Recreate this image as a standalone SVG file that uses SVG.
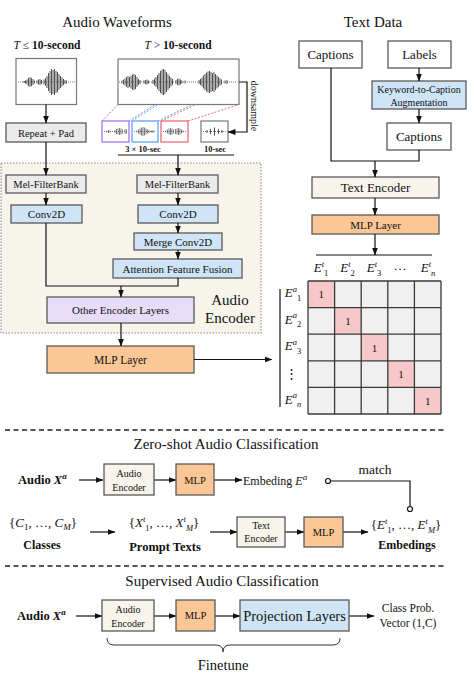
<svg xmlns="http://www.w3.org/2000/svg" width="474" height="684" viewBox="0 0 474 684">
<defs>
<marker id="ah" viewBox="0 0 8 6" refX="7.5" refY="3" markerWidth="8" markerHeight="6" markerUnits="userSpaceOnUse" orient="auto"><path d="M0,0 L8,3 L0,6 z" fill="#111"/></marker>
<style>
.t{font-family:"Liberation Serif","Times New Roman",serif;fill:#111}
.i{font-style:italic}
.b{font-weight:bold}
.bx{stroke:#5a5a5a;stroke-width:1.3}
.gray{fill:#ebebeb}.blue{fill:#cfe4f7}.lav{fill:#e8ddf8}.org{fill:#fbc796}.beige{fill:#f7f4eb}.white{fill:#fff}
.c{stroke:#111;stroke-width:1.2;fill:none}
.arr{marker-end:url(#ah)}
.wave{stroke:#4a4a4a;stroke-width:0.95;fill:none}
.mini{stroke:#6e6e6e;stroke-width:0.9;fill:none}
.dot{stroke:#555;stroke-width:0.8;stroke-dasharray:1 1;fill:none}
.sep{stroke:#222;stroke-width:1.3;stroke-dasharray:5 3.5;fill:none}
</style>
</defs>
<rect width="474" height="684" fill="#fff"/>

<!-- titles -->
<text class="t" x="117" y="27" font-size="15" text-anchor="middle">Audio Waveforms</text>
<text class="t" x="373" y="27" font-size="15" text-anchor="middle">Text Data</text>
<text class="t" x="47" y="49" font-size="11.5" text-anchor="middle"><tspan class="i">T</tspan> ≤ <tspan class="b">10-second</tspan></text>
<text class="t" x="178" y="49" font-size="11.5" text-anchor="middle"><tspan class="i">T</tspan> &gt; <tspan class="b">10-second</tspan></text>

<!-- audio encoder frame -->
<g id="audio-encoder-frame">
<rect x="1" y="163" width="260" height="170" fill="#f7f4ec" stroke="#8a8a8a" stroke-width="1.1" stroke-dasharray="1.5 1.5"/>
<text class="t" x="230" y="305" font-size="15" text-anchor="middle">Audio</text>
<text class="t" x="230" y="323" font-size="15" text-anchor="middle">Encoder</text>
</g>

<!-- waveforms -->
<g id="wave-short">
<rect x="16" y="58.5" width="60.5" height="46" fill="#fff" stroke="#777" stroke-width="1.2"/>
<path class="dot" d="M18 82H75"/>
<path class="wave" d="M24 81V83M25.5 80.5V83.5M27 79.5V84.5M28.5 78V86M30 77V87M31.5 78V86M33 79V85M34.5 80.5V83.5M37 80.5V83.5M38.5 79.5V84.5M40 79V85M41.5 80V84M44 79.5V84.5M45.5 78V86M47 76V88M48.5 73V91M50 71V93M51.5 69V95M53 70V94M54.5 69V95M56 71V93M57.5 72V92M59 74V90M60.5 76V88M62 77.5V86.5M63.5 79V85M65 80V84M66.5 80.5V83.5"/>
</g>
<g id="wave-long">
<rect x="118" y="59" width="121" height="45.5" fill="#fff" stroke="#777" stroke-width="1.2"/>
<path class="dot" d="M119 82H237"/>
<path class="wave" d="M122 80.5V83.5M123.5 79.5V84.5M125 78.5V85.5M126.5 77V87M128 76V88M129.5 77V87M131 75.5V88.5M132.5 74.5V89.5M134 74V90M135.5 75V89M137 77V87M138.5 79V85M140 80V84M144 80.5V83.5M145.5 80V84M147 79.5V84.5M148.5 80.5V83.5M153 80V84M154.5 78.5V85.5M156 77V87M157.5 75V89M159 73V91M160.5 71V93M162 69.5V94.5M163.5 69V95M165 70V94M166.5 72V92M168 74V90M169.5 76V88M171 77.5V86.5M172.5 79V85M176 80V84M177.5 79V85M179 78.5V85.5M180.5 79.5V84.5M182 80.5V83.5M185 80.5V83.5M199 80V84M200.5 79V85M202 77.5V86.5M203.5 75.5V88.5M205 74V90M206.5 72.5V91.5M208 71.5V92.5M209.5 71V93M211 72V92M212.5 73V91M214 72V92M215.5 74V90M217 75.5V88.5M218.5 77V87M220 78.5V85.5M221.5 79.5V84.5M225 80.5V83.5M227 80V84"/>
</g>
<text class="t" transform="translate(250.5,106) rotate(90)" font-size="10" text-anchor="middle">downsample</text>

<!-- segment boxes -->
<g id="segments">
<path d="M102 121L118 104.5M129 121L155 104.5" stroke="#a774e8" stroke-width="1" stroke-dasharray="2 1.5"/>
<path d="M132 121L158 104.5M158 121L192 104.5" stroke="#5ea6ee" stroke-width="1" stroke-dasharray="2 1.5"/>
<path d="M161 121L196 104.5M188 121L239 104.5" stroke="#ea6b78" stroke-width="1" stroke-dasharray="2 1.5"/>
<rect x="102" y="121" width="27" height="21" fill="#fff" stroke="#a774e8" stroke-width="1.3"/>
<rect x="132" y="121" width="26" height="21" fill="#fff" stroke="#5ea6ee" stroke-width="1.3"/>
<rect x="161" y="121" width="27" height="21" fill="#fff" stroke="#ea6b78" stroke-width="1.3"/>
<rect x="201" y="121" width="27" height="21" fill="#fff" stroke="#777" stroke-width="1.2"/>
<path class="dot" d="M104 131.5H127M134 131.5H156M163 131.5H186M203 131.5H226"/>
<path class="mini" d="M107 130.5V132.5M108.5 130V133M110 130.5V132.5M115 130V133M116.5 129V134M118 128.5V134.5M119.5 128V135M121 128.5V134.5M122.5 129.5V133.5M125 129V134M126.5 129.5V133.5M137 130.5V132.5M138.5 129.5V133.5M140 128.5V134.5M141.5 127.5V135.5M143 127V136M144.5 127.5V135.5M146 128.5V134.5M147.5 129.5V133.5M149 130V133M151.5 130.5V132.5M153 130V133M166 130.5V132.5M167.5 129.5V133.5M169 128.5V134.5M170.5 128V135M172 128.5V134.5M173.5 129.5V133.5M175.5 129V134M177 128.5V134.5M178.5 128V135M180 128.5V134.5M181.5 129.5V133.5M183 130.5V132.5"/>
<path class="wave" d="M207 130V133M210.5 129V134M214.5 127.5V135.5M218.5 129V134M222 130V133"/>
<text class="t b" x="143" y="152" font-size="8.5" text-anchor="middle">3 × 10-sec</text>
<text class="t b" x="215" y="152" font-size="8.5" text-anchor="middle">10-sec</text>
</g>

<!-- audio nodes -->
<g id="repeat-pad"><rect class="bx gray" x="6" y="123" width="80" height="19"/><text class="t" x="46" y="136.5" font-size="10.5" text-anchor="middle">Repeat + Pad</text></g>
<g id="mel-left"><rect class="bx gray" x="6" y="175" width="80" height="18"/><text class="t" x="46" y="187.8" font-size="10.5" text-anchor="middle">Mel-FilterBank</text></g>
<g id="mel-right"><rect class="bx gray" x="137" y="175" width="81" height="18"/><text class="t" x="177.5" y="187.8" font-size="10.5" text-anchor="middle">Mel-FilterBank</text></g>
<g id="conv-left"><rect class="bx blue" x="11" y="205" width="71" height="18"/><text class="t" x="46.5" y="218" font-size="11" text-anchor="middle">Conv2D</text></g>
<g id="conv-right"><rect class="bx blue" x="138" y="205" width="80" height="18"/><text class="t" x="178" y="218" font-size="11" text-anchor="middle">Conv2D</text></g>
<g id="merge-conv"><rect class="bx blue" x="134" y="233" width="88" height="17"/><text class="t" x="178" y="245.5" font-size="11" text-anchor="middle">Merge Conv2D</text></g>
<g id="aff"><rect class="bx blue" x="113" y="259" width="129" height="19"/><text class="t" x="177.5" y="272.5" font-size="11" text-anchor="middle">Attention Feature Fusion</text></g>
<g id="other-enc"><rect class="bx lav" x="47" y="297" width="147" height="26"/><text class="t" x="120.5" y="314" font-size="11" text-anchor="middle">Other Encoder Layers</text></g>
<g id="mlp-audio"><rect class="bx org" x="47" y="346" width="147" height="27" stroke="#888"/><text class="t" x="120.5" y="363.5" font-size="11.5" text-anchor="middle">MLP Layer</text></g>

<!-- text nodes -->
<g id="captions-1"><rect class="bx white" x="299" y="41" width="63" height="27" stroke="#444"/><text class="t" x="330.5" y="59" font-size="13" text-anchor="middle">Captions</text></g>
<g id="labels"><rect class="bx white" x="388" y="41" width="63" height="27" stroke="#444"/><text class="t" x="419.5" y="59" font-size="13" text-anchor="middle">Labels</text></g>
<g id="k2c"><rect class="bx blue" x="372" y="81" width="94" height="28" stroke="#444"/><text class="t" x="419" y="92.5" font-size="10" text-anchor="middle">Keyword-to-Caption</text><text class="t" x="419" y="105.5" font-size="10" text-anchor="middle">Augmentation</text></g>
<g id="captions-2"><rect class="bx white" x="387" y="123" width="64" height="27" stroke="#444"/><text class="t" x="419" y="141" font-size="13" text-anchor="middle">Captions</text></g>
<g id="text-enc"><rect class="bx beige" x="312" y="177" width="127" height="21" stroke="#888"/><text class="t" x="375.5" y="192" font-size="13" text-anchor="middle">Text Encoder</text></g>
<g id="mlp-text"><rect class="bx org" x="312" y="215" width="127" height="19" stroke="#888"/><text class="t" x="375.5" y="228.5" font-size="11" text-anchor="middle">MLP Layer</text></g>

<!-- similarity matrix -->
<g id="matrix">
<rect x="308" y="281" width="133" height="133" fill="#f0f0f0"/>
<rect x="308" y="281" width="26.6" height="26.6" fill="#f6c8c8"/>
<rect x="334.6" y="307.6" width="26.6" height="26.6" fill="#f6c8c8"/>
<rect x="361.2" y="334.2" width="26.6" height="26.6" fill="#f6c8c8"/>
<rect x="387.8" y="360.8" width="26.6" height="26.6" fill="#f6c8c8"/>
<rect x="414.4" y="387.4" width="26.6" height="26.6" fill="#f6c8c8"/>
<path d="M308 281H441M308 307.6H441M308 334.2H441M308 360.8H441M308 387.4H441M308 414H441M308 281V414M334.6 281V414M361.2 281V414M387.8 281V414M414.4 281V414M441 281V414" stroke="#3a3a3a" stroke-width="1.3" fill="none"/>
<g class="t" font-size="11" text-anchor="middle">
<text x="321.3" y="298.3">1</text><text x="347.9" y="324.9">1</text><text x="374.5" y="351.5">1</text><text x="401.1" y="378.1">1</text><text x="427.7" y="404.7">1</text>
</g>
<g class="t" font-size="13" text-anchor="middle">
<text x="321" y="272"><tspan class="i">E</tspan><tspan font-size="8.5" class="i" dy="-5.5">t</tspan><tspan font-size="8.5" dy="9">1</tspan></text>
<text x="347.5" y="272"><tspan class="i">E</tspan><tspan font-size="8.5" class="i" dy="-5.5">t</tspan><tspan font-size="8.5" dy="9">2</tspan></text>
<text x="374" y="272"><tspan class="i">E</tspan><tspan font-size="8.5" class="i" dy="-5.5">t</tspan><tspan font-size="8.5" dy="9">3</tspan></text>
<text x="400" y="270">…</text>
<text x="428" y="272"><tspan class="i">E</tspan><tspan font-size="8.5" class="i" dy="-5.5">t</tspan><tspan font-size="8.5" class="i" dy="9">n</tspan></text>
<text x="293" y="297"><tspan class="i">E</tspan><tspan font-size="8.5" class="i" dy="-5.5">a</tspan><tspan font-size="8.5" dy="9">1</tspan></text>
<text x="293" y="323.5"><tspan class="i">E</tspan><tspan font-size="8.5" class="i" dy="-5.5">a</tspan><tspan font-size="8.5" dy="9">2</tspan></text>
<text x="293" y="350"><tspan class="i">E</tspan><tspan font-size="8.5" class="i" dy="-5.5">a</tspan><tspan font-size="8.5" dy="9">3</tspan></text>
<text x="291" y="378">⋮</text>
<text x="293" y="403.5"><tspan class="i">E</tspan><tspan font-size="8.5" class="i" dy="-5.5">a</tspan><tspan font-size="8.5" class="i" dy="9">n</tspan></text>
</g>
</g>

<!-- connectors -->
<g id="connectors">
<path class="c arr" d="M46 104.5V123"/>
<path class="c arr" d="M46 142V175"/>
<path class="c arr" d="M239 82H247V132H228"/>
<path class="c" d="M118 155H234"/>
<path class="c arr" d="M178 155V175"/>
<path class="c arr" d="M46 193V205"/>
<path class="c arr" d="M178 193V205"/>
<path class="c arr" d="M178 223V233"/>
<path class="c arr" d="M178 250V259"/>
<path class="c" d="M46 223V286H178V278"/>
<path class="c arr" d="M121 286V297"/>
<path class="c arr" d="M121 323V346"/>
<path class="c arr" d="M194 359.5H272"/>
<path class="c arr" d="M419 68V81"/>
<path class="c arr" d="M419 109V123"/>
<path class="c" d="M331 68V161H419V150"/>
<path class="c arr" d="M375 161V177"/>
<path class="c arr" d="M375 198V215"/>
<path class="c arr" d="M375 234V255"/>
<path class="c" d="M316 255H432"/>
<path class="c" d="M280 289V407" stroke-width="1.5"/>
<path class="c arr" d="M79 480H103"/>
<path class="c arr" d="M154 480H176"/>
<path class="c arr" d="M214 480H242"/>
<path class="c" d="M330.5 481H410V506.5"/>
<circle cx="328" cy="481" r="2.5" fill="#fff" stroke="#111" stroke-width="1.2"/>
<circle cx="410" cy="509" r="2.5" fill="#fff" stroke="#111" stroke-width="1.2"/>
<path class="c arr" d="M90 532H115"/>
<path class="c arr" d="M210 532H237"/>
<path class="c arr" d="M285 532H304"/>
<path class="c arr" d="M343 532H368"/>
<path class="c arr" d="M76 616H102"/>
<path class="c arr" d="M154 616H176"/>
<path class="c arr" d="M215 616H240"/>
<path class="c arr" d="M349 616H374"/>
</g>

<!-- separators -->
<path class="sep" d="M5 430H447"/>
<path class="sep" d="M5 566H447"/>

<!-- zero-shot -->
<text class="t" x="226" y="449" font-size="15" text-anchor="middle">Zero-shot Audio Classification</text>
<text class="t b" x="18" y="484" font-size="12.5">Audio <tspan class="i">X</tspan><tspan font-size="9" class="i" dy="-5">a</tspan></text>
<g id="zs-audio-enc"><rect class="bx beige" x="104" y="464" width="50" height="31" stroke="#888"/><text class="t" x="129" y="476.5" font-size="10" text-anchor="middle">Audio</text><text class="t" x="129" y="490.5" font-size="10" text-anchor="middle">Encoder</text></g>
<g id="zs-mlp-a"><rect class="bx org" x="176" y="464" width="38" height="31" stroke="#888"/><text class="t" x="195" y="483.5" font-size="10.5" text-anchor="middle">MLP</text></g>
<text class="t" x="243" y="485" font-size="12">Embeding <tspan class="i">E</tspan><tspan font-size="9" class="i" dy="-5">a</tspan></text>
<text class="t" x="375" y="474" font-size="13.5" text-anchor="middle">match</text>
<text class="t" x="43" y="527" font-size="13" text-anchor="middle">{<tspan class="i">C</tspan><tspan font-size="9" dy="3">1</tspan><tspan dy="-3">, …, </tspan><tspan class="i">C</tspan><tspan font-size="9" class="i" dy="3">M</tspan><tspan dy="-3">}</tspan></text>
<text class="t b" x="42" y="549" font-size="12" text-anchor="middle">Classes</text>
<text class="t" x="164" y="527" font-size="13" text-anchor="middle">{<tspan class="i">X</tspan><tspan font-size="8.5" class="i" dy="-5.5">t</tspan><tspan font-size="8.5" dy="9">1</tspan><tspan dy="-3.5">, …, </tspan><tspan class="i">X</tspan><tspan font-size="8.5" class="i" dy="-5.5">t</tspan><tspan font-size="8.5" class="i" dy="9">M</tspan><tspan dy="-3.5">}</tspan></text>
<text class="t b" x="165" y="551" font-size="12.5" text-anchor="middle">Prompt Texts</text>
<g id="zs-text-enc"><rect class="bx beige" x="237" y="517" width="48" height="30" stroke="#888"/><text class="t" x="261" y="528.5" font-size="10" text-anchor="middle">Text</text><text class="t" x="261" y="541.5" font-size="10" text-anchor="middle">Encoder</text></g>
<g id="zs-mlp-t"><rect class="bx org" x="304" y="517" width="39" height="30" stroke="#888"/><text class="t" x="323.5" y="535.5" font-size="10.5" text-anchor="middle">MLP</text></g>
<text class="t" x="406" y="529" font-size="13" text-anchor="middle">{<tspan class="i">E</tspan><tspan font-size="8.5" class="i" dy="-5.5">t</tspan><tspan font-size="8.5" dy="9">1</tspan><tspan dy="-3.5">, …, </tspan><tspan class="i">E</tspan><tspan font-size="8.5" class="i" dy="-5.5">t</tspan><tspan font-size="8.5" class="i" dy="9">M</tspan><tspan dy="-3.5">}</tspan></text>
<text class="t b" x="407" y="549" font-size="12" text-anchor="middle">Embedings</text>

<!-- supervised -->
<text class="t" x="222" y="586" font-size="15" text-anchor="middle">Supervised Audio Classification</text>
<text class="t b" x="17" y="620" font-size="12.5">Audio <tspan class="i">X</tspan><tspan font-size="9" class="i" dy="-5">a</tspan></text>
<g id="sv-audio-enc"><rect class="bx beige" x="102" y="600" width="52" height="31" stroke="#888"/><text class="t" x="128" y="612.5" font-size="10" text-anchor="middle">Audio</text><text class="t" x="128" y="626.5" font-size="10" text-anchor="middle">Encoder</text></g>
<g id="sv-mlp"><rect class="bx org" x="176" y="600" width="39" height="31" stroke="#888"/><text class="t" x="195.5" y="619" font-size="10.5" text-anchor="middle">MLP</text></g>
<g id="sv-proj"><rect class="bx blue" x="240" y="600" width="109" height="31" stroke="#888"/><text class="t" x="294.5" y="620.5" font-size="14.5" text-anchor="middle">Projection Layers</text></g>
<text class="t" x="408" y="612" font-size="11.5" text-anchor="middle">Class Prob.</text>
<text class="t" x="408" y="627" font-size="11.5" text-anchor="middle">Vector (1,C)</text>
<path d="M107 638Q107 645 114 645L216 645Q223 645 223 652Q223 645 230 645L333 645Q340 645 340 638" stroke="#333" stroke-width="1" fill="none"/>
<text class="t" x="223" y="670" font-size="14.5" text-anchor="middle">Finetune</text>
</svg>
